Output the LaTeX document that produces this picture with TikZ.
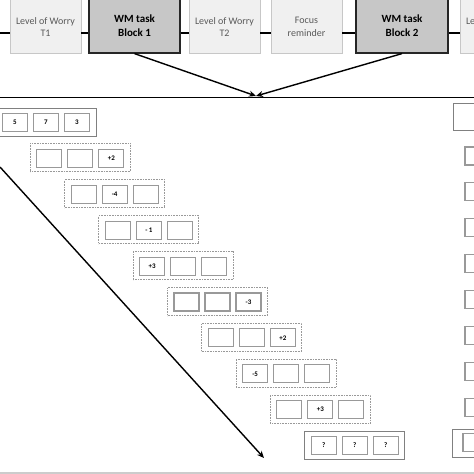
\documentclass[tikz,border=0pt]{standalone}
\usepackage{fontspec}
\setmainfont{Carlito}
\usetikzlibrary{arrows.meta}
\begin{document}
\begin{tikzpicture}[x=1pt,y=-1pt,
  lightbox/.style={draw=black!22,fill=black!6,line width=0.8pt,minimum width=71pt,minimum height=70pt,inner sep=0pt},
  darkbox/.style={draw=black!85,fill=black!22,line width=1.2pt,minimum width=92pt,minimum height=70pt,inner sep=0pt},
  lighttext/.style={text=black!65,font=\fontsize{10}{12.5}\selectfont,align=center,inner sep=0pt},
  darktext/.style={font=\fontsize{11}{14}\selectfont\bfseries,align=center,inner sep=0pt},
  link/.style={line width=1.4pt},
  arr/.style={line width=1.4pt,-{Stealth[length=7pt,width=6pt]}},
  cell/.style={draw=black!40,line width=1.1pt,minimum width=25pt,minimum height=18pt,inner sep=0pt,font=\fontsize{7}{8}\selectfont\bfseries},
  solidouter/.style={draw=black!50,line width=0.9pt,minimum width=100pt,minimum height=28pt,inner sep=0pt},
  dotouter/.style={draw=black!40,line width=0.9pt,dash pattern=on 0.8pt off 0.8pt,minimum width=100pt,minimum height=28pt,inner sep=0pt}
]
\useasboundingbox (0,0) rectangle (474,474);
\clip (0,0) rectangle (474,474);

% top sequence
\node[lightbox] (t1) at (45.5,18) {};
\node[darkbox,minimum width=91pt] (wm1) at (134.5,18) {};
\node[lightbox] (t2) at (224.5,18) {};
\node[lightbox] (fr) at (306.5,18) {};
\node[darkbox] (wm2) at (402,18) {};
\node[lightbox] (t3) at (495.5,18) {};
\node[lighttext] (t1l) at (45.5,27) {Level of Worry\\T1};
\node[darktext] (wm1l) at (134.5,26) {WM task\\Block 1};
\node[lighttext] (t2l) at (224.5,27) {Level of Worry\\T2};
\node[lighttext] (frl) at (306.5,27) {Focus\\reminder};
\node[darktext] (wm2l) at (402,26) {WM task\\Block 2};
\node[lighttext] (t3l) at (495.5,27) {Level of Worry\\T3};

\coordinate (lft) at (0,33);
\draw[link] (lft) -- ([yshift=-15pt]t1.west);
\draw[link] ([yshift=-15pt]t1.east) -- ([yshift=-15pt]wm1.west);
\draw[link] ([yshift=-15pt]wm1.east) -- ([yshift=-15pt]t2.west);
\draw[link] ([yshift=-15pt]t2.east) -- ([yshift=-15pt]fr.west);
\draw[link] ([yshift=-15pt]fr.east) -- ([yshift=-15pt]wm2.west);
\draw[link] ([yshift=-15pt]wm2.east) -- ([yshift=-15pt]t3.west);

% zoom arrows
\coordinate (m) at (256,96);
\draw[arr] (wm1.south) -- (m);
\draw[arr] (wm2.south) -- (m);

% horizontal rule
\coordinate (hl) at (0,97);
\coordinate (hr) at (474,97);
\draw[line width=1pt] (hl) -- (hr);

% trials of block 1
\foreach \i/\a/\b/\c/\st in {0/5/7/3/solidouter, 1/{}/{}/+2/dotouter, 2/{}/-4/{}/dotouter,
  3/{}/{- 1}/{}/dotouter, 4/+3/{}/{}/dotouter, 5/{}/{}/-3/dotouter, 6/{}/{}/+2/dotouter,
  7/-5/{}/{}/dotouter, 8/{}/+3/{}/dotouter, 9/?/?/?/solidouter}{
  \node[\st] (r\i) at ({46+34.3*\i},{122+35.9*\i}) {};
  \node[cell] (r\i-a) at ([xshift=-31pt,yshift=-0.5pt]r\i.center) {\a};
  \node[cell] (r\i-b) at ([yshift=-0.5pt]r\i.center) {\b};
  \node[cell] (r\i-c) at ([xshift=31pt,yshift=-0.5pt]r\i.center) {\c};
}

% diagonal time arrow
\coordinate (d1) at (0,167);
\coordinate (d2) at (264,458);
\draw[arr] (d1) -- (d2);

% block 2 (cut off at the right)
\node[solidouter,minimum height=27pt] (s0) at (503,116.5) {};
\foreach \k in {1,...,8}{
  \node[cell] (s\k) at (477.5,{156+35.9*(\k-1)}) {};
}
\node[solidouter] (s9) at (502,443) {};
\node[cell] (s9-a) at (475.5,442.5) {};

% bottom rule
\coordinate (bl) at (0,473);
\coordinate (br) at (474,473);
\draw[black!20,line width=3pt] (bl) -- (br);
\end{tikzpicture}
\end{document}
